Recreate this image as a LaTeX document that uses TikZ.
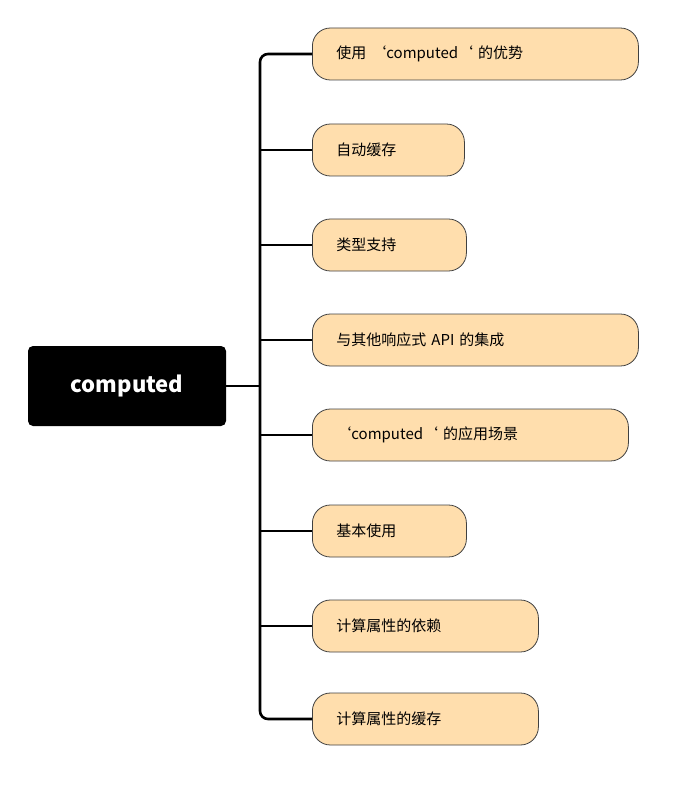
\documentclass[tikz,border=0pt]{standalone}
\usepackage{fontspec}
\setmainfont{Noto Sans CJK SC}
\begin{document}
\begin{tikzpicture}[x=1pt,y=1pt,
  leaf/.style={draw=black!75,line width=0.8pt,fill=orange!30!yellow!25!white,fill=leafc,rounded corners=18pt,anchor=west,minimum height=52pt,inner xsep=24pt,align=left,font=\fontsize{15}{18}\selectfont},
  link/.style={line width=2.6pt}]
\definecolor{leafc}{HTML}{FFDEAD}
\useasboundingbox (0,0) rectangle (690,-791);
\node[fill=black,rounded corners=5pt,minimum width=198pt,minimum height=80pt,text=white,font=\fontsize{22}{26}\selectfont\bfseries] (root) at (127,-386) {computed};
\coordinate (t) at (260,0);
\node[leaf,text width=278pt] (c1) at (312,-54) {使用 `computed` 的优势};
\node[leaf,text width=104pt] (c2) at (312,-150) {自动缓存};
\node[leaf,text width=106pt] (c3) at (312,-245) {类型支持};
\node[leaf,text width=278pt] (c4) at (312,-340) {与其他响应式 API 的集成};
\node[leaf,text width=268pt] (c5) at (312,-435) {`computed` 的应用场景};
\node[leaf,text width=106pt] (c6) at (312,-531) {基本使用};
\node[leaf,text width=178pt] (c7) at (312,-626) {计算属性的依赖};
\node[leaf,text width=178pt] (c8) at (312,-719) {计算属性的缓存};
\draw[link,rounded corners=8pt] (c1.west) -- (c1.west -| t) -- (c8.west -| t) -- (c8.west);
\foreach \n in {c2,c3,c4,c5,c6,c7} \draw[link] (\n.west -| t) -- (\n.west);
\draw[link] (root.east) -- (root.east -| t);
\end{tikzpicture}
\end{document}
